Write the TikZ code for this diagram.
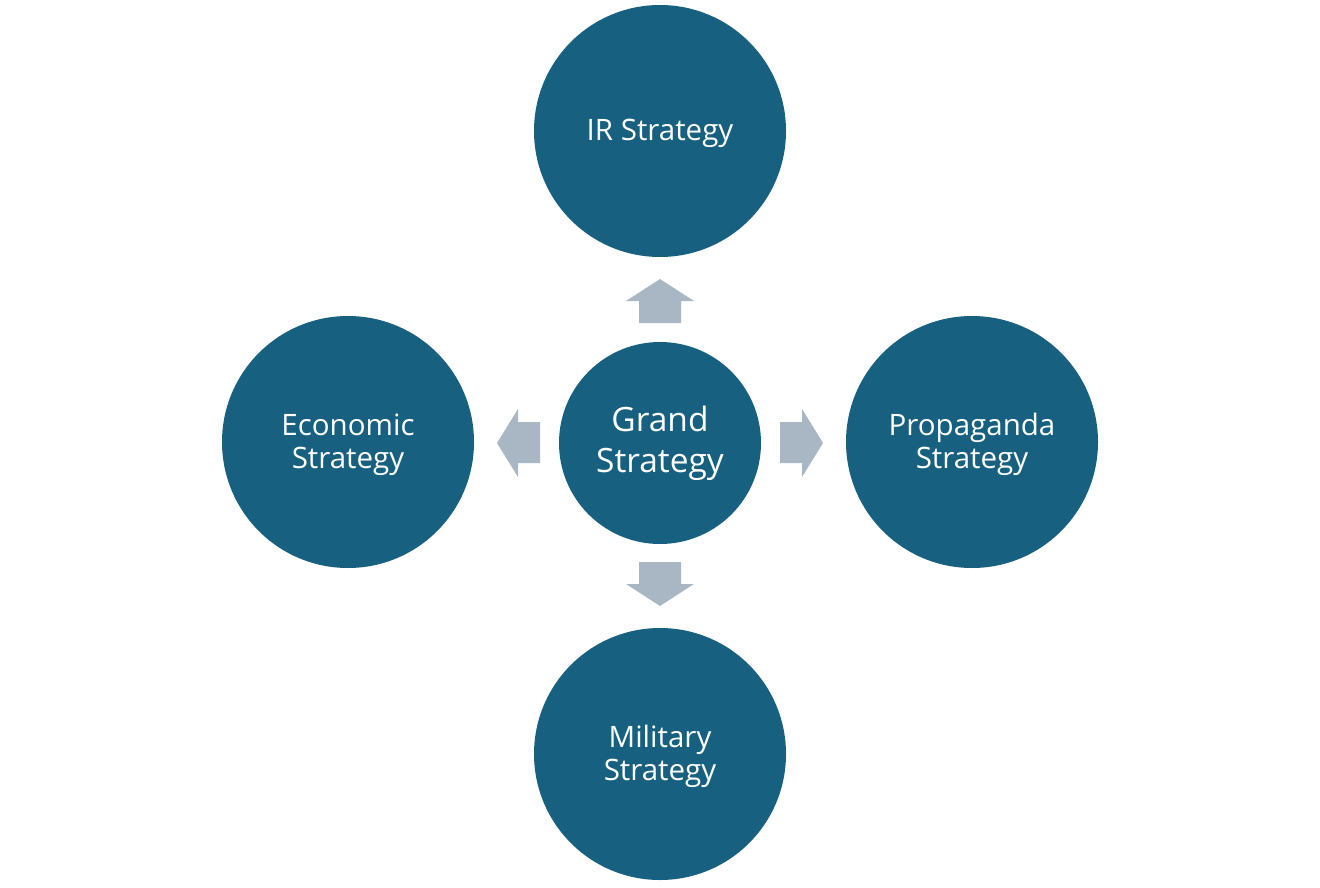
\documentclass[tikz,border=0pt]{standalone}
\usepackage{fontspec}
\setmainfont{Open Sans}
\definecolor{circ}{HTML}{17607F}
\definecolor{arr}{HTML}{A9B7C4}
\newcommand\myTopStrut{\rule{0pt}{27pt}}
\begin{document}
\begin{tikzpicture}[x=1pt,y=-1pt,
  outer/.style={circle,fill=circ,draw=none,minimum size=252pt,inner sep=0pt,text=white,align=center,
    font=\fontsize{29.5}{33}\selectfont},
  inner/.style={circle,fill=circ,draw=none,minimum size=202pt,inner sep=0pt,text=white,align=center,
    font=\fontsize{33.5}{41}\selectfont},
  blockarrow/.style={fill=arr,draw=none}]
\useasboundingbox (0,0) rectangle (1320,888);
\node[inner] (g) at (660,443) {Grand\\Strategy};
\node[outer] (ir) at (660,131) {\myTopStrut IR Strategy};
\node[outer] (ec) at (348,442) {\myTopStrut Economic\\Strategy};
\node[outer] (pr) at (972,442) {\myTopStrut Propaganda\\Strategy};
\node[outer] (mi) at (660,754) {\myTopStrut Military\\Strategy};
\fill[blockarrow] (639,323) -- (639,301) -- (626,301) -- (660,279) -- (694,301) -- (681,301) -- (681,323) -- cycle;
\fill[blockarrow] (639,562) -- (681,562) -- (681,584) -- (694,584) -- (660,606) -- (626,584) -- (639,584) -- cycle;
\fill[blockarrow] (540,422) -- (518,422) -- (518,409) -- (497,443) -- (518,477) -- (518,463) -- (540,463) -- cycle;
\fill[blockarrow] (780,422) -- (802,422) -- (802,409) -- (823,443) -- (802,477) -- (802,463) -- (780,463) -- cycle;
\end{tikzpicture}
\end{document}
